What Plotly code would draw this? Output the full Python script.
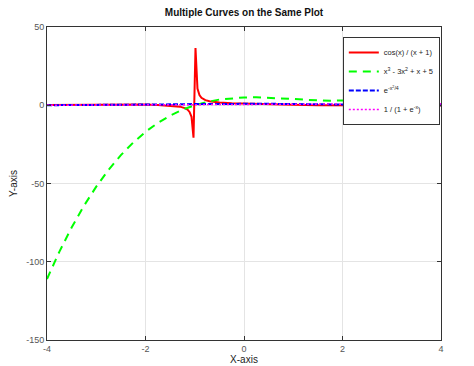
import plotly.graph_objects as go

# Values
x_red = [-4, -3.5, -3, -2.5, -2, -1.75, -1.5, -1.3, -1.1859, -1.1457, -1.1055, -1.0653,
         -1.0251, -0.9849, -0.9447, -0.9045, -0.8643, -0.8241, -0.7839, -0.7, -0.6, -0.5,
         -0.25, 0, 0.5, 1, 1.5, 2, 2.5, 3, 3.5, 4]
y_red = [0.218, 0.375, 0.495, 0.534, 0.416, 0.238, -0.141, -0.892, -2.020, -2.834, -4.253,
         -7.417, -20.68, 36.62, 10.60, 6.473, 4.785, 3.862, 3.277, 2.549, 2.063, 1.755,
         1.292, 1.0, 0.585, 0.270, 0.028, -0.139, -0.229, -0.248, -0.208, -0.131]

x_green = [-4, -3.75, -3.5, -3.25, -3, -2.75, -2.5, -2.25, -2, -1.75, -1.5, -1.25, -1,
           -0.75, -0.5, -0.25, 0, 0.25, 0.5, 0.75, 1, 1.25, 1.5, 1.75, 2, 2.25, 2.5,
           2.75, 3, 3.25, 3.5, 3.75, 4]
y_green = [-111, -93.672, -78.125, -64.266, -52, -41.234, -31.875, -23.828, -17, -11.297,
           -6.625, -2.891, 0, 2.141, 3.625, 4.547, 5, 5.078, 4.875, 4.484, 4, 3.516, 3.125,
           2.922, 3, 3.453, 4.375, 5.859, 8, 10.891, 14.625, 19.297, 25]

x_half = [-4, -3.5, -3, -2.5, -2, -1.5, -1, -0.5, 0, 0.5, 1, 1.5, 2, 2.5, 3, 3.5, 4]
y_blue = [0.018, 0.047, 0.105, 0.210, 0.368, 0.570, 0.779, 0.939, 1.0, 0.939, 0.779,
          0.570, 0.368, 0.210, 0.105, 0.047, 0.018]
y_magenta = [0.018, 0.029, 0.047, 0.076, 0.119, 0.182, 0.269, 0.378, 0.5, 0.622, 0.731,
             0.818, 0.881, 0.924, 0.953, 0.971, 0.982]

names = ["cos(x) / (x + 1)", "x<sup>3</sup> - 3x<sup>2</sup> + x + 5",
         "e<sup>-x<sup>2</sup>/4</sup>", "1 / (1 + e<sup>-x</sup>)"]
x_ticks = [-4, -2, 0, 2, 4]
x_ticklabels = ["-4", "-2", "0", "2", "4"]
y_ticks = [-150, -100, -50, 0, 50]
y_ticklabels = ["-150", "-100", "-50", "0", "50"]

fig = go.Figure()
fig.add_trace(go.Scatter(x=x_red, y=y_red, mode="lines", name=names[0],
                         line=dict(color="#ff0000", width=2)))
fig.add_trace(go.Scatter(x=x_green, y=y_green, mode="lines", name=names[1],
                         line=dict(color="#00ff00", width=2, dash="8px,6px")))
fig.add_trace(go.Scatter(x=x_half, y=y_blue, mode="lines", name=names[2],
                         line=dict(color="#0000ff", width=2, dash="5px,2px")))
fig.add_trace(go.Scatter(x=x_half, y=y_magenta, mode="lines", name=names[3],
                         line=dict(color="#ff00ff", width=1.5, dash="2px,2px")))

axis_common = dict(showgrid=True, gridcolor="#e4e4e4", gridwidth=1, zeroline=False,
                   showline=True, linecolor="#333333", linewidth=1, mirror="ticks",
                   ticks="inside", ticklen=4, tickcolor="#333333", automargin=False,
                   tickfont=dict(size=9, color="#555555"))

# page has an 8px body margin, so the figure is sized to fit inside the window
fig.update_layout(
    width=466, height=358,
    paper_bgcolor="white", plot_bgcolor="white",
    font=dict(family="Liberation Sans, Arial, sans-serif", color="#222222"),
    margin=dict(l=39, r=33, t=19, b=26, autoexpand=False),
    title=dict(text="<b>Multiple Curves on the Same Plot</b>", x=0.5, xanchor="center",
               xref="paper", y=0.988, yanchor="middle", font=dict(size=10, color="#111111")),
    xaxis=dict(range=[-4, 4], tickvals=x_ticks, ticktext=x_ticklabels,
               title=dict(text="X-axis", standoff=2, font=dict(size=10)), **axis_common),
    yaxis=dict(range=[-150, 50], tickvals=y_ticks, ticktext=y_ticklabels,
               title=dict(text="Y-axis", standoff=10, font=dict(size=10)), **axis_common),
    legend=dict(x=0.997, y=0.968, xanchor="right", yanchor="top", bgcolor="white",
                bordercolor="#333333", borderwidth=1, font=dict(size=7.5),
                tracegroupgap=0, itemwidth=30),
    showlegend=True,
)

fig.write_html("out.html")
